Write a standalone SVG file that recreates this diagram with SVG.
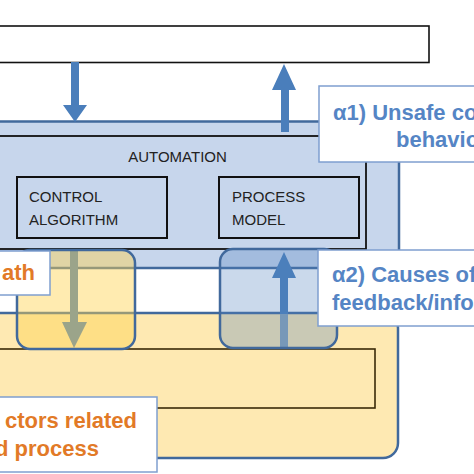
<svg xmlns="http://www.w3.org/2000/svg" width="474" height="474" viewBox="0 0 474 474">
  <defs>
    <style>
      .plain { fill: #ffffff; stroke: #111111; stroke-width: 1.6; }
      .ctrl { fill: #c7d6ec; stroke: #41699c; stroke-width: 2.5; }
      .auto { fill: #c7d6ec; stroke: #111111; stroke-width: 1.8; }
      .inner { fill: #c7d6ec; stroke: #111111; stroke-width: 2; }
      .proc { fill: #fee9b2; stroke: #41699c; stroke-width: 2.5; }
      .procin { fill: #fee9b2; stroke: #3a2a08; stroke-width: 1.6; }
      .act { fill: #ffd34f; fill-opacity: 0.45; stroke: #41699c; stroke-width: 2.5; }
      .sens { fill: #4f81bd; fill-opacity: 0.3; stroke: #41699c; stroke-width: 2.5; }
      .arrow { fill: #4a7ebb; stroke: none; }
      .label { fill: #ffffff; stroke: #7f9fcf; stroke-width: 1.5; }
      .t { font-family: "Liberation Sans", Arial, sans-serif; font-size: 15px; fill: #222222; }
      .blue { font-family: "Liberation Sans", Arial, sans-serif; font-size: 22px; font-weight: bold; fill: #5585c5; }
      .orange { font-family: "Liberation Sans", Arial, sans-serif; font-size: 22px; font-weight: bold; fill: #e27a27; }
    </style>
  </defs>
  <rect width="474" height="474" fill="#ffffff"/>

  <g id="top-box">
    <rect class="plain" x="-5" y="26" width="434" height="36.5"/>
  </g>

  <g id="controller">
    <rect class="ctrl" x="-10" y="121.5" width="409" height="146.5"/>
  </g>

  <g id="automation">
    <rect class="auto" x="-5" y="136" width="371" height="113"/>
    <text class="t" x="177.5" y="162" text-anchor="middle">AUTOMATION</text>
  </g>

  <g id="control-algorithm">
    <rect class="inner" x="17" y="177" width="150" height="61"/>
    <text class="t" x="29" y="202">CONTROL</text>
    <text class="t" x="29" y="224.5">ALGORITHM</text>
  </g>

  <g id="process-model">
    <rect class="inner" x="219" y="177" width="140" height="61"/>
    <text class="t" x="232" y="202">PROCESS</text>
    <text class="t" x="232" y="224.5">MODEL</text>
  </g>

  <g id="controlled-process">
    <rect class="proc" x="-20" y="313" width="418" height="145" rx="15" ry="15"/>
    <rect class="procin" x="-5" y="349" width="380" height="59"/>
  </g>

  <g id="connectors">
    <path class="arrow" d="M71,62 H79 V105 H87 L75,122 L63,105 H71 Z"/>
    <path class="arrow" d="M281,132 H289 V90 H296 L284,64 L272,90 H281 Z"/>
    <path class="arrow" d="M70,249 H78 V322 H87 L74,348 L62,322 H70 Z"/>
    <path class="arrow" d="M280,348 H288 V278 H296 L284,252 L272,278 H280 Z"/>
  </g>

  <g id="actuator">
    <rect class="act" x="17" y="250" width="118" height="99" rx="13" ry="13"/>
  </g>

  <g id="sensor">
    <rect x="280" y="314" width="8" height="34" fill="#fee9b2" fill-opacity="0.35"/>
    <rect class="sens" x="220" y="249" width="117" height="99" rx="13" ry="13"/>
  </g>

  <g id="label-alpha1">
    <rect class="label" x="319" y="86" width="170" height="76"/>
    <text class="blue" x="333" y="120">α1) Unsafe co</text>
    <text class="blue" x="396" y="147">behavio</text>
  </g>

  <g id="label-alpha2">
    <rect class="label" x="318" y="250" width="170" height="76"/>
    <text class="blue" x="332" y="282">α2) Causes of</text>
    <text class="blue" x="332" y="310">feedback/info</text>
  </g>

  <g id="label-path">
    <rect class="label" x="-5" y="251" width="55" height="44"/>
    <text class="orange" x="35" y="280" text-anchor="end">ath</text>
  </g>

  <g id="label-factors">
    <rect class="label" x="-5" y="397" width="162" height="75"/>
    <text class="orange" x="137" y="428" text-anchor="end">ctors related</text>
    <text class="orange" x="99" y="456" text-anchor="end">d process</text>
  </g>
</svg>
